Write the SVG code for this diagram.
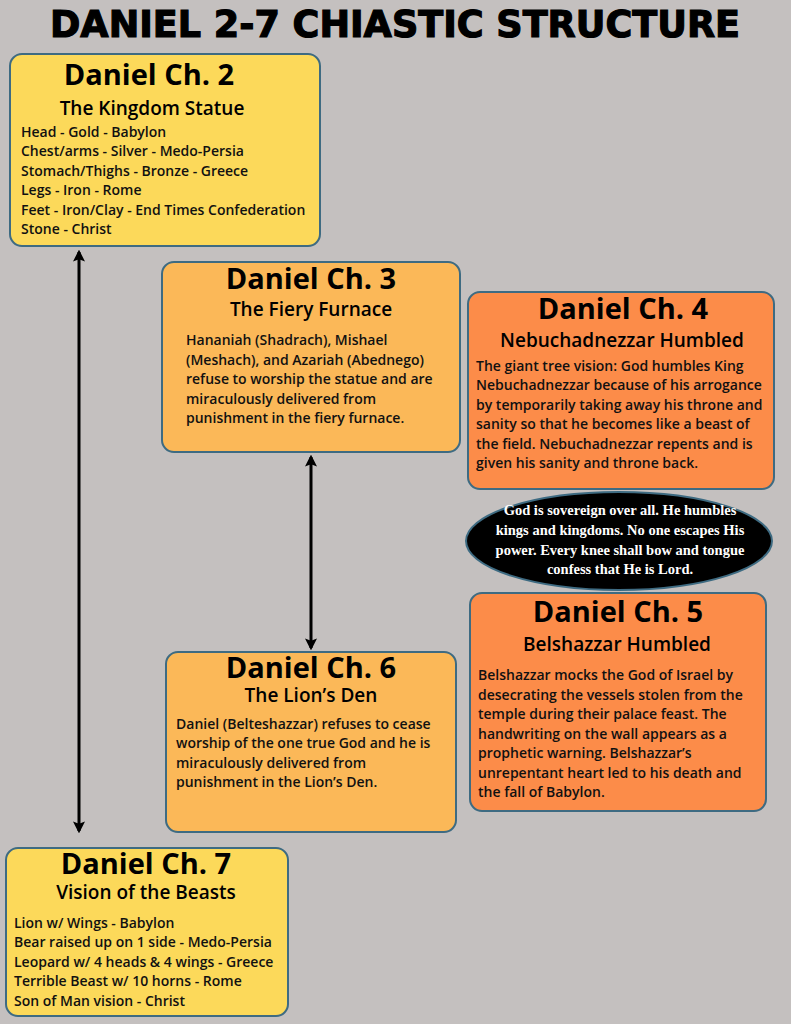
<svg xmlns="http://www.w3.org/2000/svg" width="791" height="1024" viewBox="0 0 791 1024">
<defs>
<marker id="ah" viewBox="0 0 10 10" refX="8" refY="5" markerWidth="4" markerHeight="4" orient="auto-start-reverse"><path d="M0,0 L10,5 L0,10 L2,5 z" fill="#000"/></marker>
<style>
.box{stroke:#3e6b82;stroke-width:2}
.y{fill:#fcd95a}.lo{fill:#fbb858}.do{fill:#fc8c49}
.h{font-family:"Open Sans","Liberation Sans",sans-serif;font-weight:700;font-size:29px;text-anchor:middle;fill:#000}
.s{font-family:"Open Sans","Liberation Sans",sans-serif;font-weight:600;font-size:19px;text-anchor:middle;fill:#000}
.b{font-family:"Open Sans","Liberation Sans",sans-serif;font-weight:600;font-size:14px;fill:#111}
.w{font-family:"Liberation Serif",serif;font-weight:700;font-size:14.5px;fill:#fff;text-anchor:middle}
.ln{stroke:#000;stroke-width:3;fill:none;marker-start:url(#ah);marker-end:url(#ah)}
</style>
</defs>
<rect width="791" height="1024" fill="#c4c0bf"/>
<text x="395" y="37" text-anchor="middle" font-family="'DejaVu Sans','Liberation Sans',sans-serif" font-weight="900" font-size="37" textLength="690" lengthAdjust="spacingAndGlyphs" stroke="#000" stroke-width="1.2">DANIEL 2-7 CHIASTIC STRUCTURE</text>
<g id="connectors">
<line class="ln" x1="79" y1="252" x2="79" y2="831"/>
<line class="ln" x1="311" y1="457" x2="311" y2="648"/>
</g>
<g id="ch2"><rect class="box y" x="10" y="54" width="310" height="192" rx="12"/>
<text class="h" x="149" y="85">Daniel Ch. 2</text><text class="s" x="152" y="115">The Kingdom Statue</text>
<text class="b" x="21" y="137">Head - Gold - Babylon</text><text class="b" x="21" y="156">Chest/arms - Silver - Medo-Persia</text><text class="b" x="21" y="176">Stomach/Thighs - Bronze - Greece</text><text class="b" x="21" y="195">Legs - Iron - Rome</text><text class="b" x="21" y="215">Feet - Iron/Clay - End Times Confederation</text><text class="b" x="21" y="234">Stone - Christ</text></g>
<g id="ch3"><rect class="box lo" x="162" y="262" width="298" height="190" rx="12"/>
<text class="h" x="311" y="289">Daniel Ch. 3</text><text class="s" x="311" y="316">The Fiery Furnace</text>
<text class="b" x="186" y="345">Hananiah (Shadrach), Mishael</text><text class="b" x="186" y="365">(Meshach), and Azariah (Abednego)</text><text class="b" x="186" y="384">refuse to worship the statue and are</text><text class="b" x="186" y="404">miraculously delivered from</text><text class="b" x="186" y="423">punishment in the fiery furnace.</text></g>
<g id="ch4"><rect class="box do" x="468" y="292" width="306" height="197" rx="12"/>
<text class="h" x="623" y="319">Daniel Ch. 4</text><text class="s" x="622" y="347">Nebuchadnezzar Humbled</text>
<text class="b" x="476" y="371">The giant tree vision: God humbles King</text><text class="b" x="476" y="390">Nebuchadnezzar because of his arrogance</text><text class="b" x="476" y="410">by temporarily taking away his throne and</text><text class="b" x="476" y="429">sanity so that he becomes like a beast of</text><text class="b" x="476" y="449">the field. Nebuchadnezzar repents and is</text><text class="b" x="476" y="468">given his sanity and throne back.</text></g>
<g id="theme"><ellipse cx="619" cy="541" rx="153" ry="49" fill="#000" stroke="#3e6b82" stroke-width="2"/>
<text class="w" x="620" y="515">God is sovereign over all. He humbles</text><text class="w" x="620" y="535">kings and kingdoms. No one escapes His</text><text class="w" x="620" y="555">power. Every knee shall bow and tongue</text><text class="w" x="620" y="574">confess that He is Lord.</text></g>
<g id="ch5"><rect class="box do" x="470" y="593" width="296" height="218" rx="12"/>
<text class="h" x="618" y="622">Daniel Ch. 5</text><text class="s" x="617" y="651">Belshazzar Humbled</text>
<text class="b" x="478" y="680">Belshazzar mocks the God of Israel by</text><text class="b" x="478" y="700">desecrating the vessels stolen from the</text><text class="b" x="478" y="719">temple during their palace feast. The</text><text class="b" x="478" y="739">handwriting on the wall appears as a</text><text class="b" x="478" y="758">prophetic warning. Belshazzar’s</text><text class="b" x="478" y="778">unrepentant heart led to his death and</text><text class="b" x="478" y="797">the fall of Babylon.</text></g>
<g id="ch6"><rect class="box lo" x="166" y="652" width="290" height="180" rx="12"/>
<text class="h" x="311" y="678" font-size="28">Daniel Ch. 6</text><text class="s" x="311" y="702">The Lion’s Den</text>
<text class="b" x="176" y="729">Daniel (Belteshazzar) refuses to cease</text><text class="b" x="176" y="748">worship of the one true God and he is</text><text class="b" x="176" y="768">miraculously delivered  from</text><text class="b" x="176" y="787">punishment in the Lion’s Den.</text></g>
<g id="ch7"><rect class="box y" x="6" y="848" width="282" height="168" rx="12"/>
<text class="h" x="146" y="874" font-size="28">Daniel Ch. 7</text><text class="s" x="146" y="899">Vision of the Beasts</text>
<text class="b" x="14" y="928">Lion w/ Wings - Babylon</text><text class="b" x="14" y="947">Bear raised up on 1 side - Medo-Persia</text><text class="b" x="14" y="967">Leopard w/ 4 heads &amp; 4 wings - Greece</text><text class="b" x="14" y="986">Terrible Beast w/ 10 horns - Rome</text><text class="b" x="14" y="1006">Son of Man vision - Christ</text></g>
</svg>
